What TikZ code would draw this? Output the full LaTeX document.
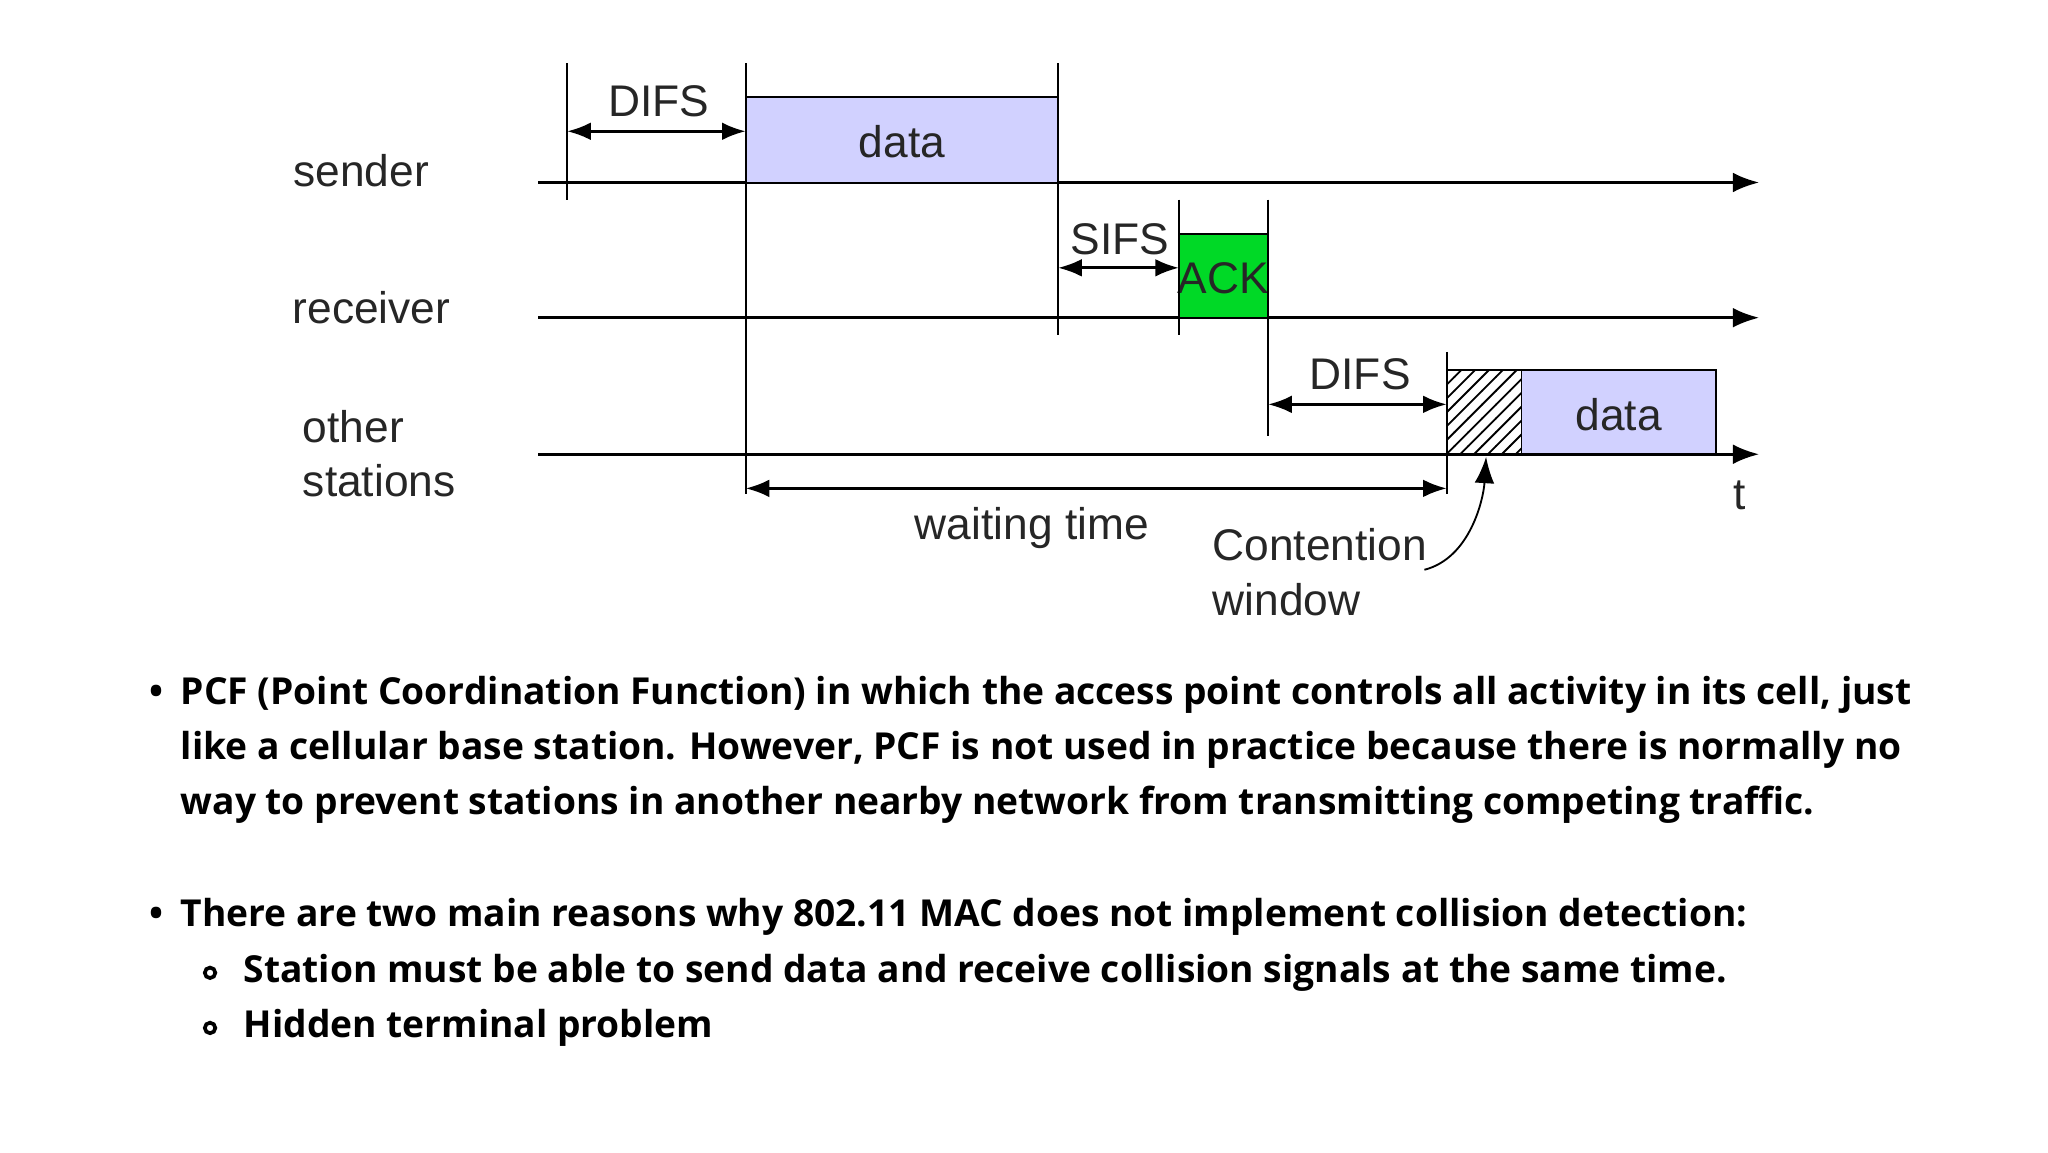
\documentclass[tikz,border=0pt]{standalone}
\usepackage{fontspec}
\setmainfont{Liberation Sans}
\newfontfamily\bulletfont{Open Sans}
\usetikzlibrary{arrows.meta,patterns}
\begin{document}
\begin{tikzpicture}[x=0.01cm,y=-0.01cm,
            axis/.style={semithick, -{Latex[length=2mm]}},
            tick/.style={thin},
            frame/.style={draw, thin, fill=blue!18!white},
            span/.style={semithick, {Latex[length=1.8mm]}-{Latex[length=1.8mm]}},
            lbl/.style={font=\fontsize{9.6}{12}\selectfont, text=black!85, inner sep=0pt},
            txt/.style={font=\bulletfont\bfseries\fontsize{8.05}{12}\selectfont, anchor=west, inner sep=0pt},
            ]
            \useasboundingbox (0,0) rectangle (1560,878);
            % stations
            \node (sender) [lbl] at (275,130) {sender};
            \node (receiver) [lbl] at (283,234) {receiver};
            \node (other) [lbl, anchor=west] at (230,325) {other};
            \node (stations) [lbl, anchor=west] at (230,366) {stations};
            \coordinate (s0) at (410,139); \coordinate (s1) at (1340,139);
            \coordinate (r0) at (410,242); \coordinate (r1) at (1340,242);
            \coordinate (o0) at (410,346); \coordinate (o1) at (1340,346);
            \draw[axis] (s0) -- (s1);
            \draw[axis] (r0) -- (r1);
            \draw[axis] (o0) -- (o1);
            \node (t) [lbl] at (1325,377) {t};
            % frames
            \draw[frame] (568,74) rectangle (806,139);
            \node (data1) [lbl] at (687,108) {data};
            \draw[frame, fill=green!70!teal] (898,178) rectangle (966,242);
            \node (ack) [lbl] at (932,212) {ACK};
            \draw[thin, pattern=north east lines] (1102,282) rectangle (1159,346);
            \draw[frame] (1159,282) rectangle (1307,346);
            \node (data2) [lbl] at (1233,316) {data};
            % ticks
            \coordinate (a0) at (432,48); \coordinate (a1) at (432,152);
            \coordinate (b0) at (568,48); \coordinate (b1) at (568,376);
            \coordinate (c0) at (806,48); \coordinate (c1) at (806,255);
            \coordinate (d0) at (898,152); \coordinate (d1) at (898,255);
            \coordinate (e0) at (966,152); \coordinate (e1) at (966,332);
            \coordinate (f0) at (1102,268); \coordinate (f1) at (1102,376);
            \foreach \p in {a,b,c,d,e,f}
                \draw[tick] (\p0) -- (\p1);
            % intervals
            \draw[span] (432,100) -- (568,100);
            \node (difs1) [lbl] at (502,77) {DIFS};
            \draw[span] (806,204) -- (898,204);
            \node (sifs) [lbl] at (853,182) {SIFS};
            \draw[span] (966,308) -- (1102,308);
            \node (difs2) [lbl] at (1036,285) {DIFS};
            \draw[span] (568,372) -- (1102,372);
            \node (wait) [lbl] at (786,402) {waiting time};
            \node (cwl) [lbl, anchor=west] at (923,415) {Contention};
            \node (cwl2) [lbl, anchor=west] at (923,457) {window};
            \draw[thin, -{Latex[length=2mm]}] (1085,434) .. controls (1120,425) and (1130,380) .. (1132,348);
            % text
            \node [txt] at (113,529) {\textbullet};
            \node [txt] at (137,529) {PCF (Point Coordination Function) in which the access point controls all activity in its cell, just};
            \node [txt] at (137,571) {like a cellular base station. However, PCF is not used in practice because there is normally no};
            \node [txt] at (137,613) {way to prevent stations in another nearby network from transmitting competing traffic.};
            \node [txt] at (113,698) {\textbullet};
            \node [txt] at (137,698) {There are two main reasons why 802.11 MAC does not implement collision detection:};
            \draw[thick] (160,741) circle (4);
            \node [txt] at (185,741) {Station must be able to send data and receive collision signals at the same time.};
            \draw[thick] (160,783) circle (4);
            \node [txt] at (185,783) {Hidden terminal problem};
\end{tikzpicture}
\end{document}
